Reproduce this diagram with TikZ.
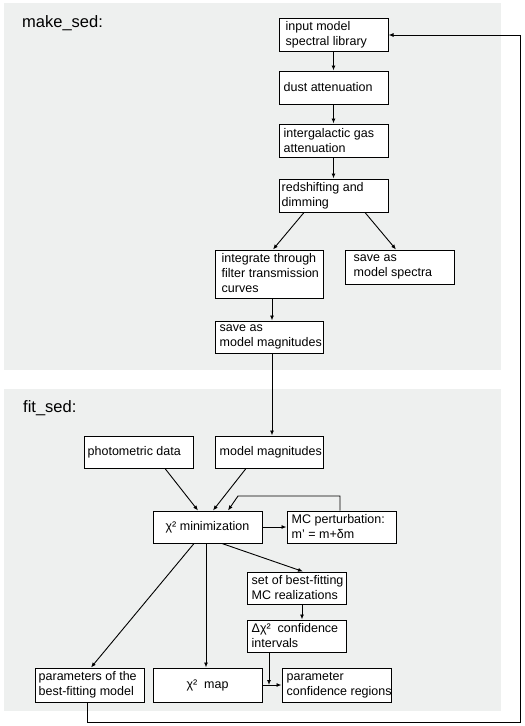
\documentclass[tikz,border=0pt]{standalone}
\usepackage{fontspec}
\setmainfont{Liberation Sans}
\usetikzlibrary{arrows.meta,calc}
\definecolor{panel}{RGB}{238,240,239}
\begin{document}
\begin{tikzpicture}[x=1pt,y=-1pt,
  box/.style={draw,line width=1pt,fill=white,inner sep=0pt,minimum width=109pt,minimum height=33pt},
  txt/.style={anchor=west,inner sep=0pt,align=left,font=\fontsize{12.5}{15}\selectfont},
  ctxt/.style={font=\fontsize{12.5}{15}\selectfont},
  title/.style={anchor=base west,inner sep=0pt,font=\fontsize{16.5}{20}\selectfont},
  arr/.style={line width=0.9pt,-{Latex[length=5pt,width=4pt]}},
  ln/.style={line width=0.9pt}]
\useasboundingbox (0,0) rectangle (525,726);
\fill[panel] (4,3) rectangle (501,370);
\fill[panel] (4,389) rectangle (501,711);
\node[title] (t1) at (22,27) {make\_sed:};
\node[title] (t2) at (23,412) {fit\_sed:};
% boxes
\node[box] (in) at (333.5,34.5) {};
\node[txt] (intx) at ([xshift=7pt]in.west) {input model\\spectral library};
\node[box] (dust) at (333.5,87.5) {};
\node[txt] (dusttx) at ([xshift=5pt]dust.west) {dust attenuation};
\node[box] (igm) at (333.5,140.5) {};
\node[txt] (igmtx) at ([xshift=5pt]igm.west) {intergalactic gas\\attenuation};
\node[box] (red) at (333.5,195.5) {};
\node[txt] (redtx) at ([xshift=3pt]red.west) {redshifting and\\dimming};
\node[box,minimum width=108pt,minimum height=48pt] (integ) at (269,274) {};
\node[txt] (integtx) at ([xshift=7pt,yshift=1pt]integ.west) {integrate through\\filter transmission\\curves};
\node[box,minimum height=34pt] (spec) at (399.5,267) {};
\node[txt] (spectx) at ([xshift=9pt]spec.west) {save as\\model spectra};
\node[box,minimum width=108pt,minimum height=32pt] (mags) at (269,337) {};
\node[txt] (magstx) at ([xshift=5pt]mags.west) {save as\\model magnitudes};
\node[box,minimum height=32pt] (phot) at (138.5,452) {};
\node[txt] (phottx) at ([xshift=4pt]phot.west) {photometric data};
\node[box,minimum width=108pt,minimum height=32pt] (mmag) at (269,452) {};
\node[txt] (mmagtx) at ([xshift=5pt]mmag.west) {model magnitudes};
\node[box,minimum height=32pt,ctxt] (chi) at (207.5,527) {χ² minimization};
\node[box,minimum height=32pt] (mc) at (341.5,527) {};
\node[txt] (mctx) at ([xshift=5pt]mc.west) {MC perturbation:\\m’ = m+δm};
\node[box,minimum width=99pt,minimum height=32pt] (set) at (296.5,588) {};
\node[txt] (settx) at ([xshift=5pt]set.west) {set of best-fitting\\MC realizations};
\node[box,minimum width=99pt,minimum height=32pt] (dchi) at (296.5,636) {};
\node[txt] (dchitx) at ([xshift=5pt]dchi.west) {Δχ²\ \ confidence\\intervals};
\node[box,minimum height=34pt] (par) at (89.5,685) {};
\node[txt] (partx) at ([xshift=4pt]par.west) {parameters of the\\best-fitting model};
\node[box,minimum height=34pt,ctxt] (map) at (207.5,685) {χ²\ \ map};
\node[box,minimum height=34pt] (conf) at (336.5,685) {};
\node[txt] (conftx) at ([xshift=5pt]conf.west) {parameter\\confidence regions};
% connectors
\draw[arr] (in) -- (dust);
\draw[arr] (dust) -- (igm);
\draw[arr] (igm) -- (red);
\draw[arr] ([xshift=-29.5pt]red.south) -- ([xshift=4pt]integ.north);
\draw[arr] ([xshift=31.5pt]red.south) -- ([xshift=-3.5pt]spec.north);
\draw[arr] ([xshift=3pt]integ.south) -- ([xshift=3pt]mags.north);
\draw[arr] ([xshift=3pt]mags.south) -- ([xshift=3pt]mmag.north);
\draw[arr] ([xshift=26.5pt]phot.south) -- ([xshift=-9.5pt]chi.north);
\draw[arr] ([xshift=-23pt]mmag.south) -- ([xshift=5.5pt]chi.north);
\draw[arr] (chi) -- (mc);
\coordinate (fb) at (238,496);
\draw[arr] ([xshift=-1.5pt]mc.north) |- (fb) -- ([xshift=20.5pt]chi.north);
\draw[arr] ([xshift=14.5pt]chi.south) -- ([xshift=6.5pt]set.north);
\draw[arr] ([xshift=5.5pt]set.south) -- ([xshift=5.5pt]dchi.north);
\draw[arr] ([xshift=-1.5pt]chi.south) -- ([xshift=-1.5pt]map.north);
\draw[arr] ([xshift=-13.5pt]chi.south) -- ([xshift=1.5pt]par.north);
\draw[arr] (map) -- (conf);
\draw[arr] ([xshift=-27.5pt]dchi.south) -- ([xshift=-27.5pt]dchi.south |- map.east);
\coordinate (c1) at (87,722);
\coordinate (c2) at (520,722);
\coordinate (c3) at (520,35);
\draw[arr] ([xshift=-2.5pt]par.south) -- (c1) -- (c2) -- (c3) -- (in.east |- c3);
\end{tikzpicture}
\end{document}
